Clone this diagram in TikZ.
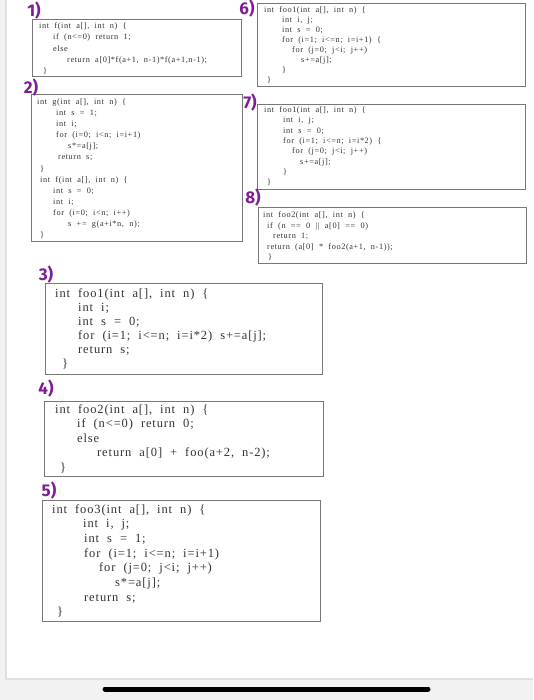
\documentclass[tikz,border=0pt]{standalone}
\usepackage{fontspec}
\setmainfont{Liberation Serif}[LetterSpace=7,WordSpace=2]
\newfontfamily\handfont{Fira Sans}
\newcommand{\ind}[1]{\hspace*{#1pt}}
\definecolor{pen}{RGB}{125,30,150}
\definecolor{boxline}{RGB}{120,120,120}
\begin{document}
\begin{tikzpicture}[x=1pt,y=-1pt,
  box/.style={draw=boxline, line width=0.8pt, fill=white, inner sep=0pt},
  code/.style={anchor=north west, inner sep=0pt, align=left, text=black!80},
  smallcode/.style={code, font=\fontsize{8.3}{#1}\selectfont},
  bigcode/.style={code, font=\fontsize{12.5}{#1}\selectfont},
  tag/.style={text=pen, font=\handfont\bfseries\fontsize{17}{17}\selectfont, inner sep=0pt}]
\useasboundingbox (0,0) rectangle (533,700);
% background and page
\fill[black!5] (0,0) rectangle (533,700);
\fill[black!12] (5,0) rectangle (533,680);
\fill[white] (7,0) rectangle (533,678);
\draw[line width=5pt, line cap=round] (105,689) coordinate (hb1) -- (428,689) coordinate (hb2);

% boxes
\node[box, minimum width=209pt, minimum height=57pt] (b1) at (136.5,47.5) {};
\node[box, minimum width=268pt, minimum height=83pt] (b6) at (391,44.5) {};
\node[box, minimum width=211pt, minimum height=147pt] (b2) at (136.5,167.5) {};
\node[box, minimum width=268pt, minimum height=85pt] (b7) at (391,146.5) {};
\node[box, minimum width=268pt, minimum height=56pt] (b8) at (392,235) {};
\node[box, minimum width=277pt, minimum height=91pt] (b3) at (183.5,328.5) {};
\node[box, minimum width=279pt, minimum height=75pt] (b4) at (183.5,438.5) {};
\node[box, minimum width=278pt, minimum height=121pt] (b5) at (181,560.5) {};

% code
\node[smallcode=11.3] (c1) at (39,22.6) {int f(int a[], int n) \{\\
\ind{14}if (n<=0) return 1;\\
\ind{14}else\\
\ind{28}return a[0]*f(a+1, n-1)*f(a+1,n-1);\\
\ind{4}\}};

\node[smallcode=10] (c6) at (264,6.6) {int foo1(int a[], int n) \{\\
\ind{18}int i, j;\\
\ind{18}int s = 0;\\
\ind{18}for (i=1; i<=n; i=i+1) \{\\
\ind{28}for (j=0; j<i; j++)\\
\ind{37}s+=a[j];\\
\ind{18}\}\\
\ind{3}\}};

\node[smallcode=11.08] (c2) at (37,98.6) {int g(int a[], int n) \{\\
\ind{19}int s = 1;\\
\ind{19}int i;\\
\ind{19}for (i=0; i<n; i=i+1)\\
\ind{31}s*=a[j];\\
\ind{21}return s;\\
\ind{3}\}\\
\ind{3}int f(int a[], int n) \{\\
\ind{16}int s = 0;\\
\ind{16}int i;\\
\ind{16}for (i=0; i<n; i++)\\
\ind{31}s += g(a+i*n, n);\\
\ind{3}\}};

\node[smallcode=10.3] (c7) at (264,106.6) {int foo1(int a[], int n) \{\\
\ind{19}int i, j;\\
\ind{19}int s = 0;\\
\ind{19}for (i=1; i<=n; i=i*2) \{\\
\ind{28}for (j=0; j<i; j++)\\
\ind{36}s+=a[j];\\
\ind{19}\}\\
\ind{3}\}};

\node[smallcode=10.5] (c8) at (263,211.6) {int foo2(int a[], int n) \{\\
\ind{4}if (n == 0 || a[0] == 0)\\
\ind{10}return 1;\\
\ind{4}return (a[0] * foo2(a+1, n-1));\\
\ind{5}\}};

\node[bigcode=14] (c3) at (55,288) {int foo1(int a[], int n) \{\\
\ind{23}int i;\\
\ind{23}int s = 0;\\
\ind{23}for (i=1; i<=n; i=i*2) s+=a[j];\\
\ind{23}return s;\\
\ind{7}\}};

\node[bigcode=14.5] (c4) at (55,404) {int foo2(int a[], int n) \{\\
\ind{22}if (n<=0) return 0;\\
\ind{22}else\\
\ind{42}return a[0] + foo(a+2, n-2);\\
\ind{5}\}};

\node[bigcode=14.7] (c5) at (52,504) {int foo3(int a[], int n) \{\\
\ind{31}int i, j;\\
\ind{32}int s = 1;\\
\ind{32}for (i=1; i<=n; i=i+1)\\
\ind{47}for (j=0; j<i; j++)\\
\ind{63}s*=a[j];\\
\ind{32}return s;\\
\ind{5}\}};

% handwritten labels
\node[tag] (t1) at (34,11) {1)};
\node[tag] (t6) at (247,9) {6)};
\node[tag] (t2) at (31,88) {2)};
\node[tag] (t7) at (250,103) {7)};
\node[tag] (t8) at (253,198) {8)};
\node[tag] (t3) at (46,275) {3)};
\node[tag] (t4) at (46,389) {4)};
\node[tag] (t5) at (49,491) {5)};
\end{tikzpicture}
\end{document}
